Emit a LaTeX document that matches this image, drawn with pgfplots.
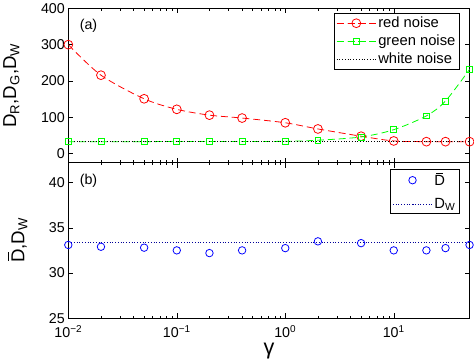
\documentclass[border=0pt]{standalone}
\usepackage{fontspec}
\setmainfont{Liberation Sans}
\usepackage{pgfplots}
\pgfplotsset{compat=1.18}
\newcommand\Dbar{\leavevmode\rlap{\hspace{0.13em}\rule[0.8em]{0.46em}{0.06em}}D}
\pgfplotsset{
  longleg/.style={legend image code/.code={
    \draw[mark repeat=2,mark phase=2,##1] plot coordinates {(0cm,0cm) (0.7cm,0cm) (1.4cm,0cm)};}},
  markleg/.style={legend image code/.code={
    \draw[##1] plot coordinates {(0.7cm,0cm)};}},
}
\begin{document}
\begin{tikzpicture}
\begin{axis}[name=top,
  xmode=log, scale only axis, width=408pt, height=157pt,
  xmin=0.01, xmax=50,
  tick align=inside, tick pos=both,
  major tick length=5pt, minor tick length=2.5pt,
  tick style={black, line width=0.5pt},
  axis line style={line width=0.6pt},
  /pgf/number format/assume math mode=true,
  ticklabel style={font=\fontsize{14.5}{14.5}\selectfont},
  label style={font=\fontsize{19}{19}\selectfont},
  legend style={font=\fontsize{15}{15}\selectfont, draw=black, line width=0.5pt, inner sep=2pt, row sep=2pt, cells={anchor=west}, at={(0.975,0.97)}, anchor=north east},
  legend cell align=left,
  xtick={0.01,0.1,1,10},
  ymin=-25, ymax=400, ytick={0,100,200,300,400},
  xticklabels={},
  ylabel={D\textsubscript{R},D\textsubscript{G},D\textsubscript{W}},
  ylabel style={yshift=15pt},
]
\addplot[red, dash pattern=on 7pt off 4pt, line width=0.8pt, smooth, mark=o, mark size=4.5pt, mark options={solid}, longleg] coordinates {
(0.01,300) (0.02,216) (0.05,151) (0.1,122) (0.2,106) (0.4,98) (1,85) (2,68) (5,48) (10,35) (20,33) (30,33) (50,33)};
\addlegendentry{red noise}
\addplot[green, dash pattern=on 7pt off 4pt, line width=0.8pt, smooth, mark=square, mark size=3pt, mark options={solid}, longleg] coordinates {
(0.01,33) (0.02,33) (0.05,33) (0.1,33.5) (0.2,33.5) (0.4,33.5) (1,34) (2,37) (5,46) (10,66) (20,104) (30,145) (50,232)};
\addlegendentry{green noise}
\addplot[black, dotted, line width=0.8pt, longleg] coordinates {(0.01,33.3) (50,33.3)};
\addlegendentry{white noise}
\node[anchor=west, font=\fontsize{14.5}{14.5}\selectfont] at (rel axis cs:0.02,0.89) {(a)};
\end{axis}
\begin{axis}[at={(top.south west)}, anchor=north west,
  xmode=log, scale only axis, width=408pt, height=158pt,
  xmin=0.01, xmax=50,
  tick align=inside, tick pos=both,
  major tick length=5pt, minor tick length=2.5pt,
  tick style={black, line width=0.5pt},
  axis line style={line width=0.6pt},
  /pgf/number format/assume math mode=true,
  ticklabel style={font=\fontsize{14.5}{14.5}\selectfont},
  xticklabel style={yshift=-4pt},
  label style={font=\fontsize{19}{19}\selectfont},
  legend style={font=\fontsize{15}{15}\selectfont, draw=black, line width=0.5pt, inner sep=2pt, row sep=7pt, cells={anchor=west}, at={(0.975,0.96)}, anchor=north east},
  legend cell align=left,
  xtick={0.01,0.1,1,10},
  ymin=25, ymax=42.2, ytick={25,30,35,40},
  xticklabels={10\textsuperscript{−2},10\textsuperscript{−1},10\textsuperscript{0},10\textsuperscript{1}},
  xlabel={\fontsize{22}{22}\selectfont γ},
  xlabel style={yshift=2pt},
  ylabel={\Dbar,D\textsubscript{W}},
  ylabel style={yshift=15pt},
]
\addplot[blue, only marks, mark=o, mark size=3.8pt, line width=0.8pt, markleg] coordinates {
(0.01,33.1) (0.02,32.9) (0.05,32.8) (0.1,32.5) (0.2,32.2) (0.4,32.5) (1,32.75) (2,33.5) (5,33.3) (10,32.5) (20,32.5) (30,32.75) (50,33.1)};
\addlegendentry{\Dbar}
\addplot[blue!60!black, dotted, line width=0.8pt, longleg] coordinates {(0.01,33.35) (50,33.35)};
\addlegendentry{D\textsubscript{W}}
\node[anchor=west, font=\fontsize{14.5}{14.5}\selectfont] at (rel axis cs:0.02,0.885) {(b)};
\end{axis}
\end{tikzpicture}
\end{document}
